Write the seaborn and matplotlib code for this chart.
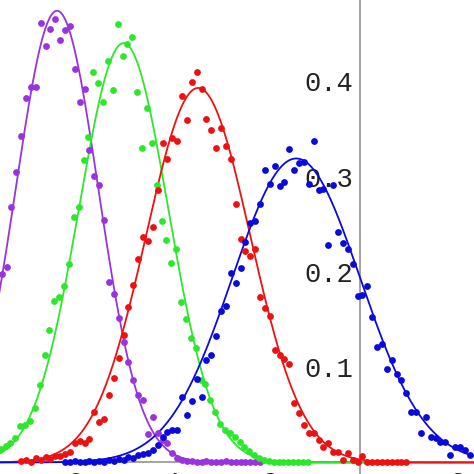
import numpy as np
import pandas as pd
import matplotlib
matplotlib.use("Agg")
import matplotlib.pyplot as plt
import seaborn as sns
from matplotlib.ticker import FixedLocator, MultipleLocator

# ---------------- data ----------------
purple_x = [-7.35, -7.25, -7.15, -7.05, -6.95, -6.85, -6.75, -6.65, -6.55, -6.45,
            -6.35, -6.25, -6.15, -6.05, -5.95, -5.85, -5.75, -5.65, -5.55, -5.45,
            -5.35, -5.25, -5.15, -5.05, -4.95, -4.85, -4.75, -4.65, -4.55, -4.45,
            -4.35, -4.25, -4.15, -4.05, -3.95, -3.85, -3.75, -3.65, -3.55, -3.45,
            -3.35, -3.25, -3.15, -3.05, -2.95, -2.85, -2.75, -2.65, -2.55, -2.45,
            -2.35, -2.25, -2.15, -2.05]
purple_y = [0.198, 0.205, 0.268, 0.305, 0.343, 0.382, 0.394, 0.394, 0.461, 0.437,
            0.455, 0.465, 0.443, 0.454, 0.458, 0.413, 0.378, 0.392, 0.328, 0.301,
            0.291, 0.254, 0.189, 0.177, 0.152, 0.126, 0.105, 0.087, 0.071, 0.066,
            0.030, 0.048, 0.031, 0.024, 0.020, 0.010, 0.005, 0.003, 0.002, 0.002,
            0.001, 0.001, 0.002, 0.000, 0.001, 0.000, 0.002, 0.000, 0.001, 0.000,
            0.000, 0.001, 0.000, 0.000]

green_x = [-7.37, -7.27, -7.17, -7.07, -6.97, -6.87, -6.77, -6.67, -6.57, -6.47,
           -6.37, -6.27, -6.17, -6.07, -5.97, -5.87, -5.77, -5.67, -5.57, -5.47,
           -5.37, -5.27, -5.17, -5.07, -4.97, -4.87, -4.77, -4.67, -4.57, -4.47,
           -4.37, -4.27, -4.17, -4.07, -3.97, -3.87, -3.77, -3.67, -3.57, -3.47,
           -3.37, -3.27, -3.17, -3.07, -2.97, -2.87, -2.77, -2.67, -2.57, -2.47,
           -2.37, -2.27, -2.17, -2.07, -1.97, -1.87, -1.77, -1.67, -1.57, -1.47,
           -1.37, -1.27, -1.17, -1.07]
green_y = [0.014, 0.017, 0.020, 0.026, 0.038, 0.039, 0.044, 0.057, 0.081, 0.113,
           0.139, 0.169, 0.174, 0.185, 0.208, 0.258, 0.268, 0.317, 0.342, 0.410,
           0.398, 0.378, 0.421, 0.391, 0.460, 0.427, 0.439, 0.446, 0.389, 0.330,
           0.372, 0.335, 0.291, 0.253, 0.233, 0.209, 0.224, 0.168, 0.151, 0.131,
           0.120, 0.087, 0.082, 0.066, 0.053, 0.040, 0.034, 0.031, 0.027, 0.021,
           0.016, 0.012, 0.008, 0.005, 0.003, 0.002, 0.001, 0.001, 0.000, 0.001,
           0.000, 0.001, 0.000, 0.000]

red_x = [-6.95, -6.85, -6.75, -6.65, -6.55, -6.45, -6.35, -6.25, -6.15, -6.05,
         -5.95, -5.85, -5.75, -5.65, -5.55, -5.45, -5.35, -5.25, -5.15, -5.05,
         -4.95, -4.85, -4.75, -4.65, -4.55, -4.45, -4.35, -4.25, -4.15, -4.05,
         -3.95, -3.85, -3.75, -3.65, -3.55, -3.45, -3.35, -3.25, -3.15, -3.05,
         -2.95, -2.85, -2.75, -2.65, -2.55, -2.45, -2.35, -2.25, -2.15, -2.05,
         -1.95, -1.85, -1.75, -1.65, -1.55, -1.45, -1.35, -1.25, -1.15, -1.05,
         -0.95, -0.85, -0.75, -0.65, -0.55, -0.45, -0.35, -0.25, -0.15, -0.05,
         0.05, 0.15, 0.25, 0.35, 0.45, 0.55, 0.65, 0.75, 0.85, 0.95]
red_y = [0.002, 0.003, 0.001, 0.005, 0.003, 0.006, 0.004, 0.007, 0.007, 0.009,
         0.011, 0.020, 0.023, 0.020, 0.025, 0.053, 0.042, 0.046, 0.071, 0.089,
         0.110, 0.134, 0.163, 0.186, 0.214, 0.237, 0.232, 0.247, 0.286, 0.335,
         0.318, 0.341, 0.337, 0.385, 0.359, 0.399, 0.410, 0.392, 0.360, 0.349,
         0.330, 0.351, 0.332, 0.318, 0.271, 0.235, 0.222, 0.217, 0.224, 0.174,
         0.162, 0.154, 0.118, 0.113, 0.109, 0.103, 0.062, 0.052, 0.039, 0.031,
         0.031, 0.024, 0.016, 0.020, 0.011, 0.011, 0.003, 0.010, 0.003, 0.001,
         0.007, 0.000, 0.001, 0.000, 0.001, 0.000, 0.000, 0.001, 0.000, 0.000]

blue_x = [-6.05, -5.95, -5.85, -5.75, -5.65, -5.55, -5.45, -5.35, -5.25, -5.15,
          -5.05, -4.95, -4.85, -4.75, -4.65, -4.55, -4.45, -4.35, -4.25, -4.15,
          -4.05, -3.95, -3.85, -3.75, -3.65, -3.55, -3.45, -3.35, -3.25, -3.15,
          -3.05, -2.95, -2.85, -2.75, -2.65, -2.55, -2.45, -2.35, -2.25, -2.15,
          -2.05, -1.95, -1.85, -1.75, -1.65, -1.55, -1.45, -1.35, -1.25, -1.15,
          -1.05, -0.95, -0.85, -0.75, -0.65, -0.55, -0.45, -0.35, -0.25, -0.15,
          -0.05, 0.05, 0.15, 0.25, 0.35, 0.45, 0.55, 0.65, 0.75, 0.85,
          0.95, 1.05, 1.15, 1.25, 1.35, 1.45, 1.55, 1.65, 1.75, 1.85,
          1.95, 2.05, 2.15, 2.25]
blue_y = [0.001, 0.001, 0.002, 0.001, 0.001, 0.002, 0.001, 0.002, 0.001, 0.003,
          0.002, 0.004, 0.003, 0.006, 0.005, 0.008, 0.009, 0.010, 0.013, 0.018,
          0.027, 0.032, 0.034, 0.034, 0.069, 0.050, 0.065, 0.088, 0.069, 0.108,
          0.113, 0.133, 0.159, 0.164, 0.199, 0.188, 0.204, 0.231, 0.251, 0.253,
          0.271, 0.307, 0.292, 0.311, 0.290, 0.294, 0.329, 0.307, 0.314, 0.315,
          0.292, 0.337, 0.286, 0.287, 0.228, 0.291, 0.242, 0.230, 0.224, 0.208,
          0.175, 0.176, 0.185, 0.153, 0.121, 0.124, 0.098, 0.108, 0.093, 0.087,
          0.073, 0.053, 0.053, 0.031, 0.048, 0.027, 0.026, 0.022, 0.022, 0.008,
          0.016, 0.016, 0.013, 0.008]

# fitted (Gaussian) curve parameters
series_names = ["purple", "green", "red", "blue"]
fit_centers = [-6.215, -4.85, -3.32, -1.31]
fit_sigmas = [0.847, 0.915, 1.067, 1.313]
fit_peaks = [0.474, 0.440, 0.393, 0.319]
series_colors = ["#9933DD", "#2BE82B", "#EE1111", "#0A0ADC"]

y_ticks = [0.1, 0.2, 0.3, 0.4]
y_tick_labels = ["0.1", "0.2", "0.3", "0.4"]
x_ticks = [-6, -4, -2, 2]
x_tick_labels = ["-6", "-4", "-2", "2"]

# ---------------- figure ----------------
sns.set_style("white")
plt.rcParams["font.family"] = ["Liberation Mono", "DejaVu Sans"]

fig = plt.figure(figsize=(4.74, 4.74), dpi=100)
ax = fig.add_axes([0, 0, 1, 1])
ax.set_xlim(-7.385, 2.338)
ax.set_ylim(-0.0121, 0.4853)

points = {
    "purple": (purple_x, purple_y),
    "green": (green_x, green_y),
    "red": (red_x, red_y),
    "blue": (blue_x, blue_y),
}

xs = np.linspace(-7.6, 2.6, 800)
for name, mu, sd, pk, col in zip(series_names, fit_centers, fit_sigmas,
                                  fit_peaks, series_colors):
    curve = pd.DataFrame({"x": xs,
                          "y": pk * np.exp(-0.5 * ((xs - mu) / sd) ** 2)})
    sns.lineplot(data=curve, x="x", y="y", color=col, linewidth=1.3,
                 ax=ax, legend=False, zorder=2)
    px, py = points[name]
    df = pd.DataFrame({"x": px, "y": py})
    sns.scatterplot(data=df, x="x", y="y", color=col, s=24, linewidth=0,
                    ax=ax, legend=False, zorder=3)

ax.set_xlabel("")
ax.set_ylabel("")

axis_col = "#8a8a8a"
for side in ["top", "right"]:
    ax.spines[side].set_visible(False)
ax.spines["left"].set_position(("data", 0))
ax.spines["bottom"].set_position(("data", 0))
for side in ["left", "bottom"]:
    ax.spines[side].set_color(axis_col)
    ax.spines[side].set_linewidth(1.1)
    ax.spines[side].set_zorder(1)

ax.yaxis.set_major_locator(FixedLocator(y_ticks))
ax.set_yticklabels(y_tick_labels)
ax.yaxis.set_minor_locator(MultipleLocator(0.02))
ax.xaxis.set_major_locator(FixedLocator(x_ticks))
ax.set_xticklabels(x_tick_labels)
ax.xaxis.set_minor_locator(MultipleLocator(0.5))

ax.tick_params(axis="both", which="both", direction="in", color=axis_col,
               labelcolor="#222222")
ax.tick_params(which="major", length=4, width=0.9)
ax.tick_params(which="minor", length=2.3, width=0.8)
ax.tick_params(axis="y", which="major", labelsize=19.5, pad=5)
ax.tick_params(axis="x", which="major", labelsize=19.5, pad=6.5)

fig.savefig("out.png", dpi=100)
